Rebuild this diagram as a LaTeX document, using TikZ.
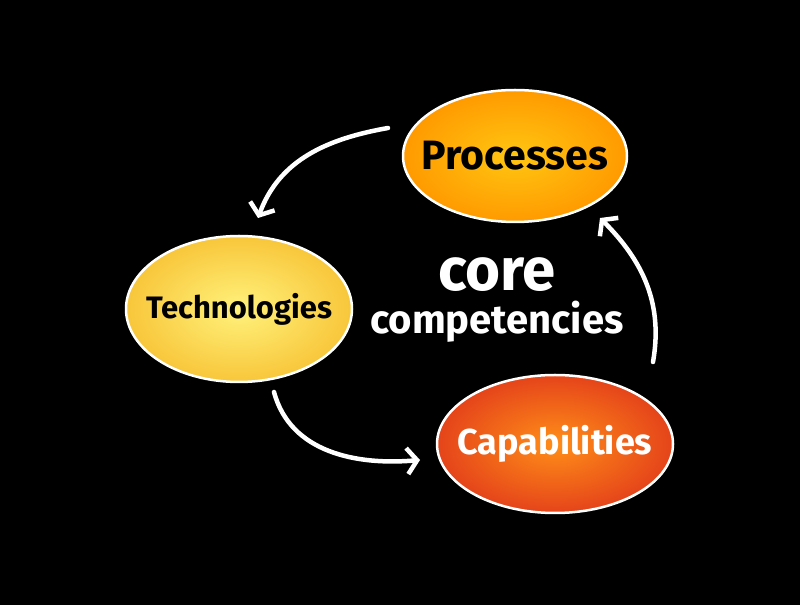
\documentclass[tikz,border=0pt]{standalone}
\usepackage{fontspec}
\setmainfont{Fira Sans}
\usepackage{tikz}
\usetikzlibrary{
  positioning,
  arrows.meta,
  shapes.geometric
}
\tikzset{>=latex}
\definecolor{procin}{HTML}{FFC612}
\definecolor{procout}{HTML}{FF9A00}
\definecolor{techin}{HTML}{FFF27C}
\definecolor{techout}{HTML}{F8C63A}
\definecolor{capain}{HTML}{FF8E18}
\definecolor{capaout}{HTML}{E5441A}

\begin{document}
\begin{tikzpicture}[x=1pt, y=1pt,
    bubble/.style = {ellipse, draw=white, line width=2.5pt, inner xsep=-20pt, inner ysep=0pt, outer sep=0pt, shading=radial},
    flow/.style = {draw=white, line width=4.5pt, line cap=round, -{Straight Barb[length=10pt, width=26pt]}}]
          % background
          \fill[black] (0,0) rectangle (800,605);
          \useasboundingbox (0,0) rectangle (800,605);

          % nodes
          \node[bubble, inner color=procin, outer color=procout, minimum width=224pt, minimum height=132pt,
                font=\bfseries\fontsize{41}{43}\selectfont] (proc) at (515,449) {Processes};
          \node[bubble, inner color=techin, outer color=techout, minimum width=226pt, minimum height=146pt,
                font=\bfseries\fontsize{31}{33}\selectfont] (tech) at (239,296) {Technologies};
          \node[bubble, inner color=capain, outer color=capaout, minimum width=236pt, minimum height=138pt,
                font=\bfseries\fontsize{36}{38}\selectfont, text=white] (capa) at (555,161) {Capabilities};

          \node[text=white, font=\bfseries\fontsize{60}{62}\selectfont] (core) at (497,330) {core};
          \node[text=white, font=\bfseries\fontsize{40}{42}\selectfont, below=2pt of core] (comp) {competencies};

          % connections
          \draw[flow] ([shift={(-15,28)}]proc.west) to[out=190, in=70] ([shift={(19,18)}]tech.north);
          \draw[flow] ([shift={(35,-10)}]tech.south) to[out=-75, in=185] ([shift={(-17,-16)}]capa.west);
          \draw[flow] ([shift={(-20,82)}]capa.east) to[out=80, in=-45] ([shift={(85,4)}]proc.south);
\end{tikzpicture}
\end{document}
